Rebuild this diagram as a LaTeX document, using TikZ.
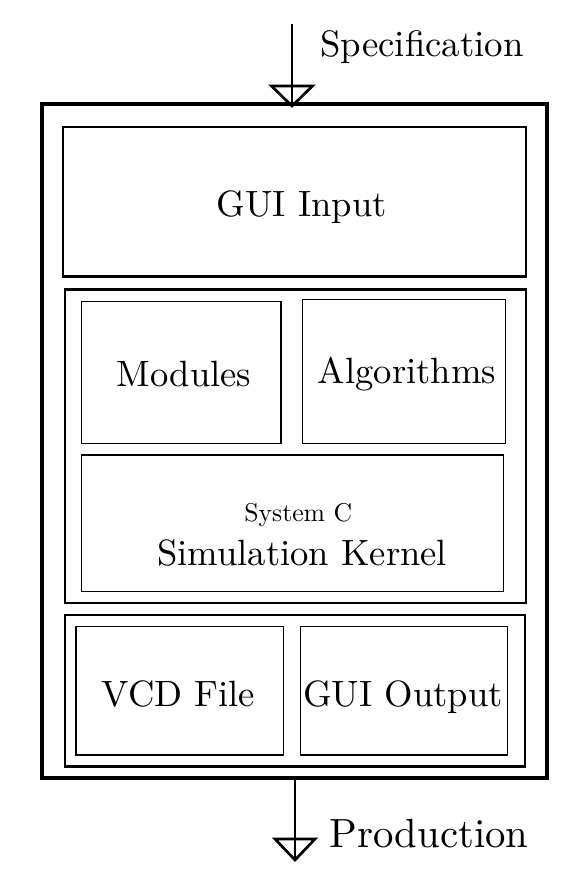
\documentclass[tikz,border=0pt]{standalone}
\usepackage{fontspec}
\setmainfont{lmroman10-regular.otf}
\begin{document}
\begin{tikzpicture}[x=1pt,y=-1pt,
  box/.style={draw, rectangle, inner sep=0pt},
  outerbox/.style={box, line width=3.6pt},
  groupbox/.style={box, line width=2.2pt},
  innerbox/.style={box, line width=1.2pt},
  lbl/.style={inner sep=0pt, anchor=base, font=\fontsize{36.6}{40}\selectfont},
  arrowline/.style={line width=2.7pt},
  tipline/.style={line width=2.7pt, line join=miter}]
\useasboundingbox (0,0) rectangle (561,878);
% boxes
\node[outerbox, minimum width=505pt, minimum height=674pt] (outer) at (294.5,441) {};
\node[groupbox, minimum width=463pt, minimum height=149.5pt] (guiin) at (294.5,201.75) {};
\node[groupbox, minimum width=461pt, minimum height=313.8pt] (mid) at (295.5,446.4) {};
\node[innerbox, minimum width=199.3pt, minimum height=141.8pt] (modules) at (181.35,372.6) {};
\node[innerbox, minimum width=203pt, minimum height=144.2pt] (algos) at (404.2,371.4) {};
\node[innerbox, minimum width=421.6pt, minimum height=136.7pt] (kernel) at (292.5,523.35) {};
\node[groupbox, minimum width=460pt, minimum height=151.5pt] (bot) at (295,690.75) {};
\node[innerbox, minimum width=207.3pt, minimum height=128.3pt] (vcd) at (179.65,690.85) {};
\node[innerbox, minimum width=206.6pt, minimum height=128.3pt] (guiout) at (404,690.85) {};
% labels
\node[lbl] (tguiin) at (301.7,216.7) {GUI Input};
\node[lbl] (tmod) at (184.2,386) {Modules};
\node[lbl] (talg) at (406.9,383.3) {Algorithms};
\node[lbl, font=\fontsize{25.7}{28}\selectfont] (tsysc) at (298.3,521.7) {System C};
\node[lbl] (tsim) at (302.2,565) {Simulation Kernel};
\node[lbl] (tvcd) at (178.3,706) {VCD File};
\node[lbl] (tgout) at (402.8,706) {GUI Output};
\node[inner sep=0pt, anchor=base west, font=\fontsize{36.8}{40}\selectfont] (tspec) at (320,56.7) {Specification};
\node[inner sep=0pt, anchor=base west, font=\fontsize{40.8}{44}\selectfont] (tprod) at (329.3,847.3) {Production};
% input arrow
\coordinate (inStart) at (292,24);
\coordinate (inTip) at (292,106);
\draw[arrowline] (inStart) -- (inTip);
\draw[tipline] (inTip) -- ++(-20.5,-20) -- ++(41,0) -- cycle;
% output arrow
\coordinate (outStart) at (295,778);
\coordinate (outTip) at (295,860);
\draw[arrowline] (outStart) -- (outTip);
\draw[tipline] (outTip) -- ++(-20,-21) -- ++(40,0) -- cycle;
\end{tikzpicture}
\end{document}
